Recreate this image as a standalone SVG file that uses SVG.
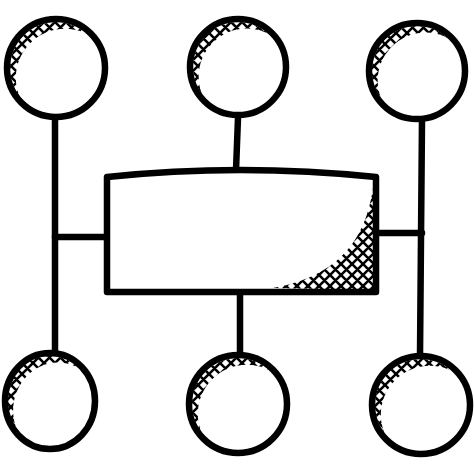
<svg xmlns="http://www.w3.org/2000/svg" width="474" height="474" viewBox="0 0 474 474">
<style>
.o{fill:none;stroke:#000;stroke-width:6.5;stroke-linecap:round;stroke-linejoin:round}
.c{fill:#fff;stroke:#000;stroke-width:6.5}
.h{fill:url(#hatch)}
</style>
<defs>
<pattern id="hatch" patternUnits="userSpaceOnUse" width="11" height="11">
<path d="M0,0 L11,11 M-3,8 L3,14 M8,-3 L14,3 M0,11 L11,0 M-3,3 L3,-3 M8,14 L14,8" stroke="#000" stroke-width="2.6"/>
</pattern>
<mask id="crescent" maskContentUnits="objectBoundingBox">
<circle cx="0.5" cy="0.5" r="0.47" fill="#fff"/>
<circle cx="0.59" cy="0.6" r="0.5" fill="#000"/>
</mask>
</defs>
<rect width="474" height="474" fill="#fff"/>
<g id="connectors" class="o">
<path d="M55,118 L55,353"/>
<path d="M55,237 L107,237"/>
<path d="M238,118 L236,170"/>
<path d="M240,293 L240,353"/>
<path d="M422,120 L420,355"/>
<path d="M376,233 L422,233"/>
</g>
<g id="center">
<path d="M107,177 Q240,163 376,177 L376,292 L107,292 Z" fill="#fff"/>
<path class="h" d="M374,180 C368,238 340,276 273,288 L374,290 Z"/>
<path class="o" d="M107,177 Q240,163 376,177 L376,292 L107,292 Z"/>
</g>
<g id="n1"><circle class="c" cx="56" cy="68" r="49"/><rect class="h" x="7" y="19" width="98" height="98" mask="url(#crescent)"/></g>
<g id="n2"><circle class="c" cx="238" cy="67" r="48"/><rect class="h" x="190" y="19" width="96" height="96" mask="url(#crescent)"/></g>
<g id="n3"><circle class="c" cx="417" cy="71" r="48"/><rect class="h" x="369" y="23" width="96" height="96" mask="url(#crescent)"/></g>
<g id="n4"><ellipse class="c" cx="50" cy="401" rx="45" ry="48"/><rect class="h" x="5" y="353" width="90" height="96" mask="url(#crescent)"/></g>
<g id="n5"><circle class="c" cx="238" cy="404" r="49"/><rect class="h" x="189" y="355" width="98" height="98" mask="url(#crescent)"/></g>
<g id="n6"><circle class="c" cx="421" cy="405" r="49"/><rect class="h" x="372" y="356" width="98" height="98" mask="url(#crescent)"/></g>
</svg>
